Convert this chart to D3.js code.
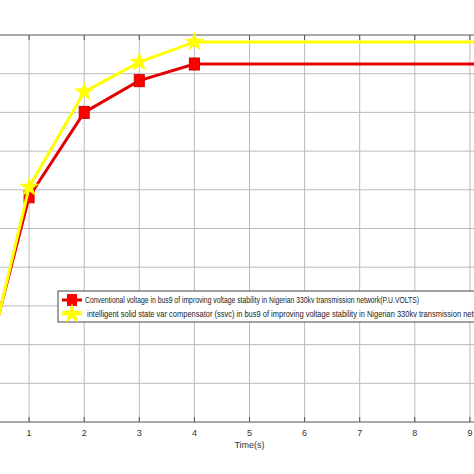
<!DOCTYPE html>
<html lang="en">
<head>
    <meta charset="UTF-8">
    <script src="https://d3js.org/d3.v7.min.js"></script>
    <style>
        body { margin: 0; background: #fff; }
        text { font-family: "Liberation Sans Narrow", "Liberation Sans", sans-serif; }
    </style>
</head>
<body>
    <div id="chart"></div>
    <script>
        // Data
        const times = [0, 1, 2, 3, 4, 5, 6, 7, 8, 9, 10];
        const conventional = [0.28, 5.82, 8.0, 8.82, 9.25, 9.25, 9.25, 9.25, 9.25, 9.25, 9.25];
        const ssvc = [0.05, 6.07, 8.53, 9.3, 9.82, 9.82, 9.82, 9.82, 9.82, 9.82, 9.82];
        const xTicks = [1, 2, 3, 4, 5, 6, 7, 8, 9];
        const yGrid = [1, 2, 3, 4, 5, 6, 7, 8, 9, 10];
        const legendLabels = [
            "Conventional voltage in  bus9 of improving voltage stability  in Nigerian 330kv transmission network(P.U.VOLTS)",
            "intelligent solid state var compensator (ssvc) in  bus9 of improving voltage stability in Nigerian 330kv transmission network(P.U.VOLTS)"
        ];

        const width = 474, height = 474;
        const svg = d3.select("#chart").append("svg")
            .attr("width", width).attr("height", height);

        const x = d3.scaleLinear().domain([0, 10]).range([-26, 525]);
        const y = d3.scaleLinear().domain([0, 10]).range([422, 35]);

        // Grid
        svg.append("g").selectAll("line").data(xTicks).join("line")
            .attr("x1", d => x(d)).attr("x2", d => x(d))
            .attr("y1", y(10)).attr("y2", y(0))
            .attr("stroke", "#bbb").attr("stroke-width", 1);
        svg.append("g").selectAll("line").data(yGrid).join("line")
            .attr("x1", 0).attr("x2", width)
            .attr("y1", d => y(d)).attr("y2", d => y(d))
            .attr("stroke", d => d === 10 ? "#555" : "#bbb").attr("stroke-width", 1);

        // Axis
        svg.append("line").attr("x1", 0).attr("x2", width)
            .attr("y1", y(0)).attr("y2", y(0)).attr("stroke", "#555");
        svg.append("g").selectAll("line").data(xTicks).join("line")
            .attr("x1", d => x(d)).attr("x2", d => x(d))
            .attr("y1", y(0)).attr("y2", y(0) - 5).attr("stroke", "#555");
        svg.append("g").selectAll("line").data(xTicks).join("line")
            .attr("x1", d => x(d)).attr("x2", d => x(d))
            .attr("y1", y(10)).attr("y2", y(10) + 5).attr("stroke", "#555");
        svg.append("g").selectAll("text").data(xTicks).join("text")
            .attr("x", d => x(d)).attr("y", y(0) + 14)
            .attr("text-anchor", "middle").attr("font-size", 9).attr("fill", "#333")
            .text(d => d);
        svg.append("text").attr("x", x(5)).attr("y", y(0) + 26)
            .attr("text-anchor", "middle").attr("font-size", 9).attr("fill", "#333")
            .text("Time(s)");

        const line = d3.line().x((d, i) => x(times[i])).y(d => y(d));
        const star = d3.symbol().type(d3.symbolStar).size(130);

        // Conventional (red squares)
        svg.append("path").datum(conventional).attr("d", line)
            .attr("fill", "none").attr("stroke", "#e30000").attr("stroke-width", 3);
        svg.append("g").selectAll("rect").data(conventional.slice(0, 5)).join("rect")
            .attr("x", (d, i) => x(times[i]) - 5).attr("y", d => y(d) - 6)
            .attr("width", 10).attr("height", 12)
            .attr("fill", "#f00").attr("stroke", "#c00");

        // SSVC (yellow stars)
        svg.append("path").datum(ssvc).attr("d", line)
            .attr("fill", "none").attr("stroke", "#ffff00").attr("stroke-width", 3);
        svg.append("g").selectAll("path").data(ssvc.slice(0, 5)).join("path")
            .attr("transform", (d, i) => `translate(${x(times[i])},${y(d)})`)
            .attr("d", star).attr("fill", "#ffff00");

        // Legend
        const lg = svg.append("g").attr("transform", "translate(58,291)");
        lg.append("rect").attr("width", 440).attr("height", 31)
            .attr("fill", "#fff").attr("stroke", "#444");
        legendLabels.forEach((t, i) => {
            const cy = 9 + i * 14;
            lg.append("line").attr("x1", 4).attr("x2", 24).attr("y1", cy).attr("y2", cy)
                .attr("stroke", i ? "#ffff00" : "#e30000").attr("stroke-width", 3);
            if (i === 0) {
                lg.append("rect").attr("x", 9).attr("y", cy - 6).attr("width", 10).attr("height", 12).attr("fill", "#f00");
            } else {
                lg.append("path").attr("transform", `translate(14,${cy})`).attr("d", star).attr("fill", "#ffff00");
            }
            lg.append("text").attr("x", i ? 29 : 27).attr("y", cy + 3)
                .attr("font-size", 9).attr("fill", "#222")
                .attr("textLength", i ? 445 : 334).attr("lengthAdjust", "spacingAndGlyphs")
                .text(t);
        });
    </script>
</body>
</html>
